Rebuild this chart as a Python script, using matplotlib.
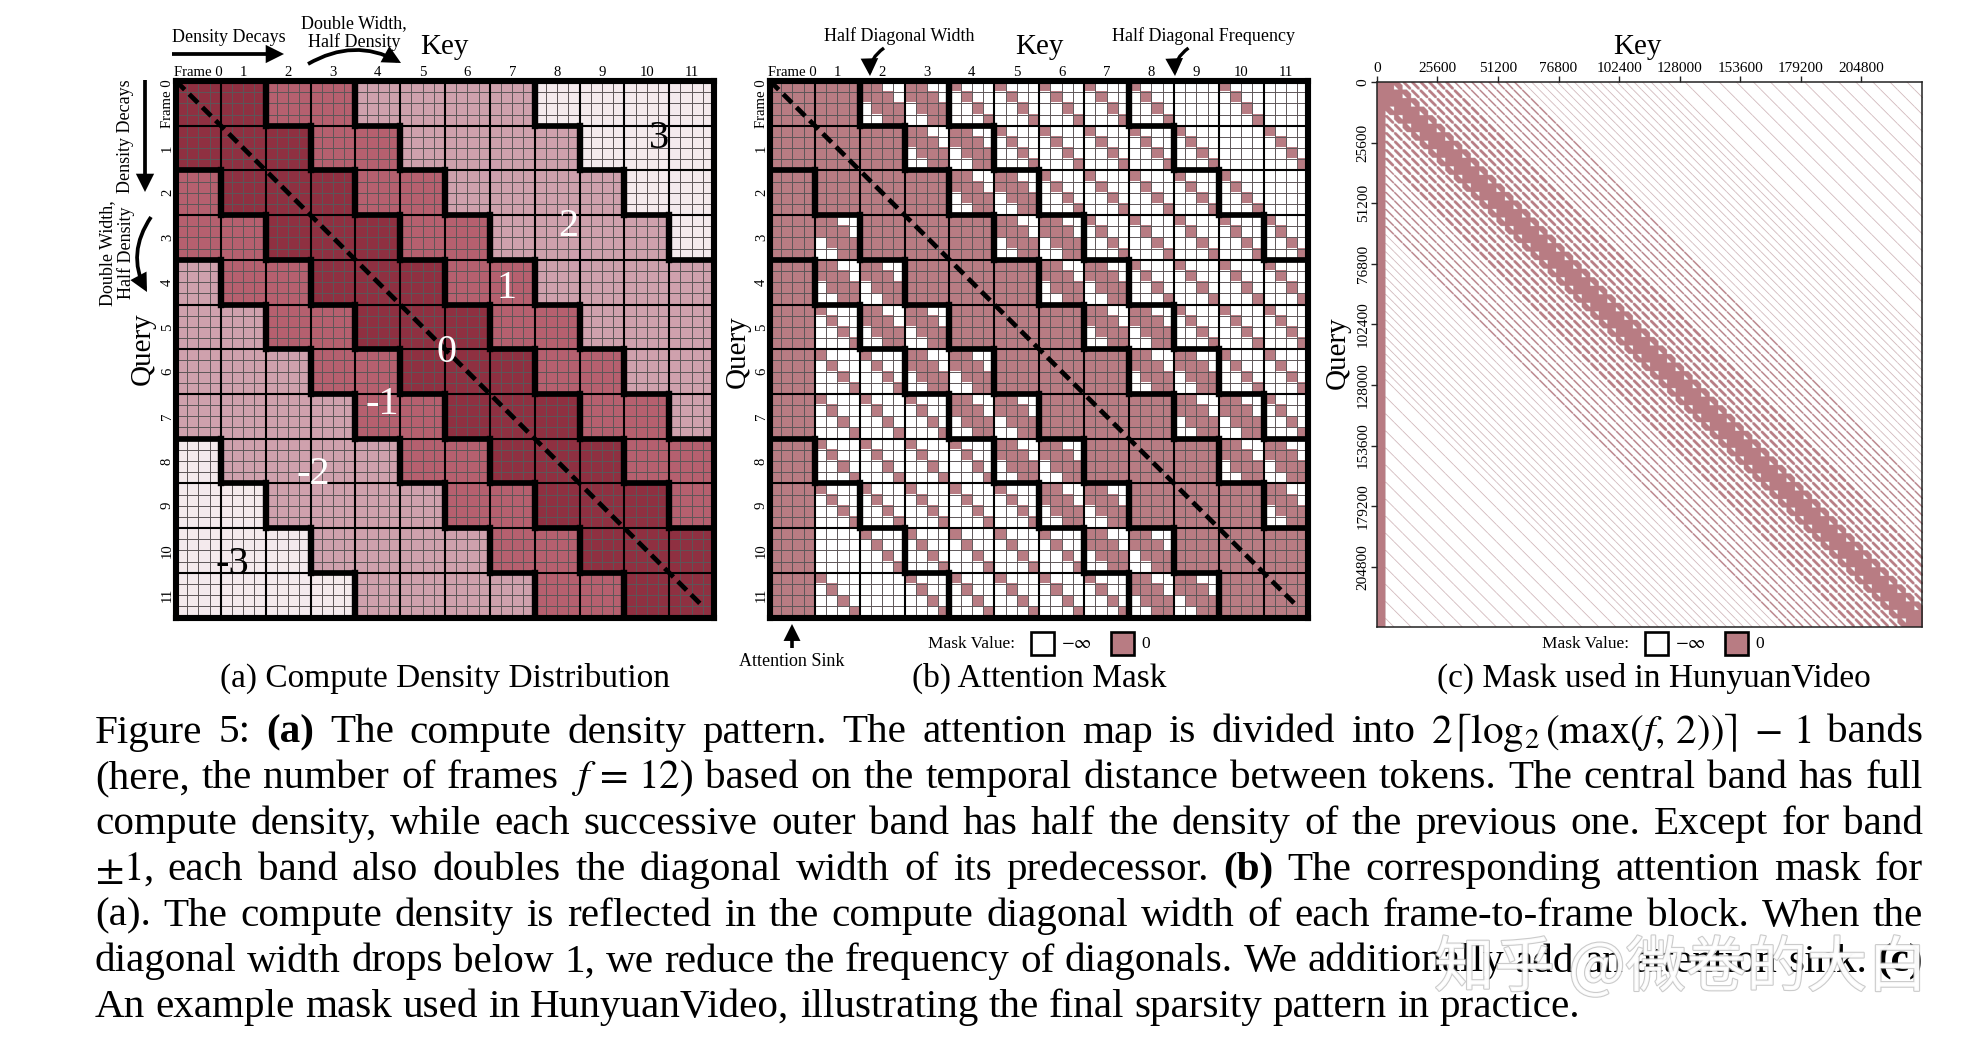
import numpy as np
import matplotlib
matplotlib.use("Agg")
import matplotlib.pyplot as plt
from matplotlib.colors import ListedColormap, LinearSegmentedColormap
from matplotlib.patches import FancyArrowPatch, Rectangle
import matplotlib.patheffects as pe

plt.rcParams['font.family'] = ['Liberation Serif', 'DejaVu Serif']
plt.rcParams['mathtext.fontset'] = 'stix'

W, H = 1962, 1048

# ---------- data ----------
FRAME_LABELS = ['Frame 0', '1', '2', '3', '4', '5', '6', '7', '8', '9', '10', '11']

BANDS = [
    [0, 0, 1, 1, 2, 2, 2, 2, 3, 3, 3, 3],
    [0, 0, 0, 1, 1, 2, 2, 2, 2, 3, 3, 3],
    [-1, 0, 0, 0, 1, 1, 2, 2, 2, 2, 3, 3],
    [-1, -1, 0, 0, 0, 1, 1, 2, 2, 2, 2, 3],
    [-2, -1, -1, 0, 0, 0, 1, 1, 2, 2, 2, 2],
    [-2, -2, -1, -1, 0, 0, 0, 1, 1, 2, 2, 2],
    [-2, -2, -2, -1, -1, 0, 0, 0, 1, 1, 2, 2],
    [-2, -2, -2, -2, -1, -1, 0, 0, 0, 1, 1, 2],
    [-3, -2, -2, -2, -2, -1, -1, 0, 0, 0, 1, 1],
    [-3, -3, -2, -2, -2, -2, -1, -1, 0, 0, 0, 1],
    [-3, -3, -3, -2, -2, -2, -2, -1, -1, 0, 0, 0],
    [-3, -3, -3, -3, -2, -2, -2, -2, -1, -1, 0, 0],
]
BAND_COLORS = ['#8f3041', '#b5606f', '#cfa1ad', '#f4eaed']

MASK_KINDS = [
    "FFHHDDDDDEDE",
    "FFFHHDDDDDED",
    "FFFFHHDDDDDE",
    "FHFFFHHDDDDD",
    "FHHFFFHHDDDD",
    "FDHHFFFHHDDD",
    "FDDHHFFFHHDD",
    "FDDDHHFFFHHD",
    "FDDDDHHFFFHH",
    "FDDDDDHHFFFH",
    "FEDDDDDHHFFF",
    "FDEDDDDDHHFF",
]
PATTERNS = {
    'F': [[1, 1, 1, 1], [1, 1, 1, 1], [1, 1, 1, 1], [1, 1, 1, 1]],
    'H': [[1, 1, 0, 0], [1, 1, 1, 0], [0, 1, 1, 1], [0, 0, 1, 1]],
    'D': [[1, 0, 0, 0], [0, 1, 0, 0], [0, 0, 1, 0], [0, 0, 0, 1]],
    'E': [[0, 0, 0, 0], [0, 0, 0, 0], [0, 0, 0, 0], [0, 0, 0, 0]],
}
MASK_COLOR = '#b87c83'

# panel (c): 64 frames of 3600 tokens
HY_FRAMES = 64
HY_TOKENS_PER_FRAME = 3600
HY_TICKS = [0, 25600, 51200, 76800, 102400, 128000, 153600, 179200, 204800]
HY_DIST_EDGES = [2, 3, 9, 17, 34]             # frame distance where a band starts
HY_WIDTHS = [1.0, 0.5, 0.22, 0.11, 0.04, 0.04]  # diagonal half-width, share of a frame
HY_STRIDES = [1, 1, 1, 1, 1, 2]               # every n-th diagonal kept
HY_LINE_COLOR = '#d6c0c3'

BAND_NUMBERS = [('3', 659, 138, 'black'), ('2', 568, 227, 'white'), ('1', 506, 288, 'white'),
                ('0', 447, 353, 'white'), ('-1', 382, 405, 'white'), ('-2', 313, 475, 'white'),
                ('-3', 232, 564, 'black')]

CAPTION = [
    r"Figure 5: **(a)** The compute density pattern. The attention map is divided into $2\lceil\log_2(\max(f,\,2))\rceil\,-\,1$ bands",
    r"(here, the number of frames $f\,=\,12$) based on the temporal distance between tokens. The central band has full",
    r"compute density, while each successive outer band has half the density of the previous one. Except for band",
    r"$\pm1$, each band also doubles the diagonal width of its predecessor. **(b)** The corresponding attention mask for",
    r"(a). The compute density is reflected in the compute diagonal width of each frame-to-frame block. When the",
    r"diagonal width drops below 1, we reduce the frequency of diagonals. We additionally add an attention sink. **(c)**",
    r"An example mask used in HunyuanVideo, illustrating the final sparsity pattern in practice.",
]

# ---------- figure ----------
fig = plt.figure(figsize=(W / 100, H / 100), dpi=100, facecolor='white')


def px_axes(x0, y0, x1, y1):
    return fig.add_axes([x0 / W, 1 - y1 / H, (x1 - x0) / W, (y1 - y0) / H])


def grid_panel(ax):
    for v in np.arange(0, 12.01, 0.25):
        if abs(v - round(v)) > 1e-6:
            ax.axvline(v, color='#5d5658', lw=0.7, zorder=2)
            ax.axhline(v, color='#5d5658', lw=0.7, zorder=2)
    for v in range(1, 12):
        ax.axvline(v, color='black', lw=1.5, zorder=3)
        ax.axhline(v, color='black', lw=1.5, zorder=3)
    b = np.array(BANDS)
    for r in range(12):
        for c in range(12):
            if c < 11 and b[r, c] != b[r, c + 1]:
                ax.plot([c + 1, c + 1], [r, r + 1], color='black', lw=4.6, zorder=4,
                        solid_capstyle='projecting')
            if r < 11 and b[r, c] != b[r + 1, c]:
                ax.plot([c, c + 1], [r + 1, r + 1], color='black', lw=4.1, zorder=4,
                        solid_capstyle='projecting')
    ax.plot([0, 11.72], [0, 11.72], color='black', lw=3.4, dashes=(2.6, 1.35),
            dash_capstyle='butt', zorder=5)
    ax.set_xlim(0, 12)
    ax.set_ylim(12, 0)
    ax.set_aspect('auto')
    ax.xaxis.tick_top()
    ax.set_xticks(np.arange(12) + 0.5, FRAME_LABELS, fontsize=10.6)
    ax.set_yticks(np.arange(12) + 0.5, FRAME_LABELS, fontsize=10.6, rotation=90, va='center')
    ax.tick_params(length=0, pad=1.5)
    for s in ax.spines.values():
        s.set_linewidth(4.4)
        s.set_color('black')


# panel a
ax_a = px_axes(176, 81, 714, 617.5)
ax_a.imshow(np.abs(np.array(BANDS)), cmap=ListedColormap(BAND_COLORS), vmin=0, vmax=3,
            extent=(0, 12, 12, 0), interpolation='nearest', aspect='auto', zorder=1)
grid_panel(ax_a)

# panel b
ax_b = px_axes(770, 81, 1308.5, 617.5)
mask_b = np.block([[np.array(PATTERNS[k]) for k in row] for row in MASK_KINDS])
ax_b.imshow(mask_b, cmap=ListedColormap(['white', MASK_COLOR]), vmin=0, vmax=1,
            extent=(0, 12, 12, 0), interpolation='nearest', aspect='auto', zorder=1)
grid_panel(ax_b)

# panel c
ax_c = px_axes(1376.8, 82, 1922, 627.3)
S = 64
sub = np.arange(HY_FRAMES * S) % S
fr = np.arange(HY_FRAMES)
dist = np.abs(fr[:, None] - fr[None, :])
band_idx = np.searchsorted(HY_DIST_EDGES, dist, side='right')
half_w = np.array(HY_WIDTHS)[band_idx] * S
keep = (dist % np.array(HY_STRIDES)[band_idx]) == 0
half_w = np.where(keep, half_w, 0)
half_w[:, 0] = S + 1
half_w = np.where(dist < HY_DIST_EDGES[0], S + 1, half_w)
full_w = np.repeat(np.repeat(half_w, S, axis=0), S, axis=1)
diff = np.abs(sub[:, None].astype(np.int16) - sub[None, :].astype(np.int16))
mask_c = (diff < full_w).astype(np.float32)
N_TOK = HY_FRAMES * HY_TOKENS_PER_FRAME
cmap_c = LinearSegmentedColormap.from_list('mask', ['white', HY_LINE_COLOR, MASK_COLOR])
ax_c.imshow(mask_c, cmap=cmap_c, vmin=0, vmax=1, extent=(0, N_TOK, N_TOK, 0),
            interpolation='hanning', interpolation_stage='data', aspect='auto')
ax_c.xaxis.tick_top()
ax_c.set_xticks(HY_TICKS, [str(t) for t in HY_TICKS], fontsize=11)
ax_c.set_yticks(HY_TICKS, [str(t) for t in HY_TICKS], fontsize=11, rotation=90, va='center')
ax_c.tick_params(length=4, width=1, pad=1, color='#222222')
for s in ax_c.spines.values():
    s.set_linewidth(1.1)
    s.set_color('#222222')

# ---------- overlay in pixel coordinates ----------
ov = fig.add_axes([0, 0, 1, 1], zorder=10)
ov.set_xlim(0, W)
ov.set_ylim(H, 0)
ov.axis('off')
ov.patch.set_alpha(0)


def T(x, y, s, size, **kw):
    kw.setdefault('ha', 'center')
    kw.setdefault('va', 'center')
    return ov.text(x, y, s, fontsize=size, **kw)


def arrow(p0, p1, rad=0.0, lw=2.6, ms=24):
    ov.add_patch(FancyArrowPatch(p0, p1, connectionstyle=f'arc3,rad={rad}',
                                 arrowstyle='-|>', mutation_scale=ms, lw=lw, color='black',
                                 shrinkA=0, shrinkB=0, joinstyle='miter', capstyle='butt'))


for x in (444, 1039.5, 1637.5):
    T(x, 47, 'Key', 21)
for x, y in ((143, 349), (738, 352), (1338, 353)):
    T(x, y, 'Query', 21, rotation=90)

T(229, 37, 'Density Decays', 13)
T(354, 33, 'Double Width,\nHalf Density', 13, linespacing=1.05)
arrow((172, 54), (284, 54), lw=2.7, ms=22)
arrow((308, 64), (401, 63), rad=-0.28, lw=2.7, ms=22)
T(126, 136, 'Density Decays', 13, rotation=90)
arrow((145, 80), (145, 192), lw=2.7, ms=22)
T(117, 253, 'Double Width,\nHalf Density', 13, rotation=90, linespacing=1.05)
arrow((151, 217), (147, 292), rad=0.3, lw=2.7, ms=22)

for s, x, y, c in BAND_NUMBERS:
    T(x, y, s, 29, color=c)

T(899, 36, 'Half Diagonal Width', 13)
T(1203, 36, 'Half Diagonal Frequency', 13)
arrow((884, 48), (870, 76), rad=0.27, lw=2.4, ms=22)
arrow((1188.5, 48), (1175, 76), rad=0.27, lw=2.4, ms=22)

T(792, 662, 'Attention Sink', 13)
arrow((792, 648), (792, 624), lw=2.6, ms=20)


def legend(xt, x1, x2, xi, x3, x4, x0, y0=632, y1=654.5):
    T(xt, 644, 'Mask Value:', 12.5)
    ov.add_patch(Rectangle((x1, y0), x2 - x1, y1 - y0, fc='white', ec='black', lw=1.9))
    T(xi, 644, r'$-\infty$', 13.5)
    ov.add_patch(Rectangle((x3, y0), x4 - x3, y1 - y0, fc=MASK_COLOR, ec='black', lw=1.9))
    T(x0, 644, '0', 12.5)


legend(971, 1031, 1054, 1076, 1111, 1134, 1146)
legend(1585, 1645, 1668, 1690.5, 1725, 1748, 1760)

T(445, 678, '(a) Compute Density Distribution', 24)
T(1039, 678, '(b) Attention Mask', 24)
T(1654, 678, '(c) Mask used in HunyuanVideo', 24)

# ---------- caption, set word by word so that lines are justified ----------
CAP_SIZE = 29.6
CAP_LEFT, CAP_RIGHT = 95, 1923
renderer = fig.canvas.get_renderer()


def set_line(line, y, justify=True):
    words = []
    for w in line.split(' '):
        bold = w.startswith('**')
        w = w.replace('**', '')
        t = ov.text(0, y, w, fontsize=CAP_SIZE, ha='left', va='baseline',
                    fontweight='bold' if bold else 'normal')
        words.append((t, t.get_window_extent(renderer).width))
    total = sum(w for _, w in words)
    gap = (CAP_RIGHT - CAP_LEFT - total) / (len(words) - 1) if justify else CAP_SIZE / 0.72 * 0.25
    x = CAP_LEFT
    for t, w in words:
        t.set_x(x)
        x += w + gap


# the math token holds spaces only inside TeX commands, so it stays one word
for i, line in enumerate(CAPTION):
    set_line(line, 742.5 + i * 45.8, justify=i < len(CAPTION) - 1)

# watermark
ov.text(1434, 969, '知乎 @微卷的大白', fontsize=43.5, ha='left', va='center',
        family=['Noto Sans CJK SC', 'DejaVu Sans'], color='white', alpha=0.92,
        path_effects=[pe.withStroke(linewidth=1.6, foreground='#b5b5b5', alpha=0.7)])

fig.savefig('out.png', dpi=100, facecolor='white')
